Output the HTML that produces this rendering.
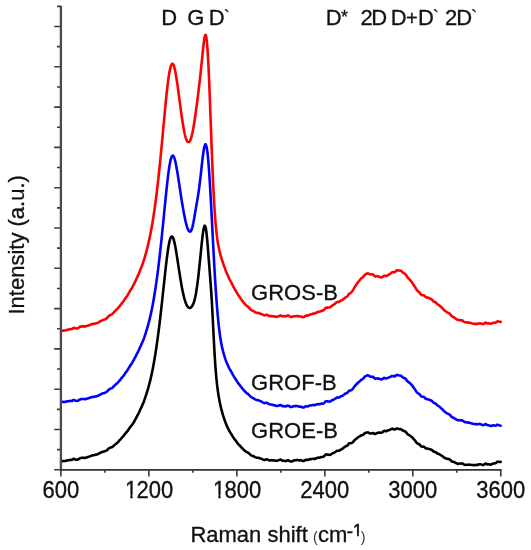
<!DOCTYPE html>
<html><head><meta charset="utf-8"><title>Raman spectra</title>
<style>html,body{margin:0;padding:0;background:#fff;width:531px;height:550px;overflow:hidden}svg{display:block;filter:blur(0.3px)}</style>
</head><body>
<svg width="531" height="550" viewBox="0 0 531 550"><rect width="531" height="550" fill="#fff"/><polyline fill="none" stroke="#ff0000" stroke-width="2.6" stroke-linejoin="round" stroke-linecap="round" points="61.2,331.04 61.7,330.96 62.2,330.82 62.7,330.70 63.2,330.63 63.7,330.59 64.2,330.56 64.7,330.52 65.2,330.46 65.7,330.36 66.2,330.19 66.7,329.99 67.2,329.80 67.7,329.68 68.2,329.61 68.7,329.55 69.2,329.42 69.7,329.25 70.2,329.11 70.7,329.07 71.2,329.11 71.7,329.11 72.2,328.92 72.7,328.51 73.2,328.06 73.7,327.81 74.2,327.86 74.7,328.10 75.2,328.36 75.7,328.50 76.2,328.49 76.7,328.42 77.2,328.37 77.7,328.32 78.2,328.14 78.7,327.77 79.2,327.34 79.7,327.00 80.2,326.79 80.7,326.65 81.2,326.51 81.7,326.40 82.2,326.35 82.7,326.34 83.2,326.36 83.7,326.38 84.2,326.40 84.7,326.42 85.2,326.42 85.7,326.35 86.2,326.19 86.7,326.00 87.2,325.83 87.7,325.69 88.2,325.56 88.7,325.40 89.2,325.20 89.7,324.97 90.2,324.75 90.7,324.59 91.2,324.45 91.7,324.28 92.2,324.08 92.7,323.93 93.2,323.88 93.7,323.85 94.2,323.78 94.7,323.65 95.2,323.51 95.7,323.40 96.2,323.28 96.7,323.12 97.2,322.96 97.7,322.81 98.2,322.61 98.7,322.30 99.2,321.90 99.7,321.55 100.2,321.32 100.7,321.16 101.2,320.94 101.7,320.62 102.2,320.30 102.7,320.10 103.2,319.98 103.7,319.85 104.2,319.64 104.7,319.41 105.2,319.20 105.7,318.96 106.2,318.64 106.7,318.22 107.2,317.74 107.7,317.23 108.2,316.71 108.7,316.20 109.2,315.76 109.7,315.39 110.2,315.07 110.7,314.79 111.2,314.54 111.7,314.29 112.2,313.99 112.7,313.61 113.2,313.10 113.7,312.50 114.2,311.89 114.7,311.37 115.2,310.91 115.7,310.44 116.2,309.94 116.7,309.44 117.2,308.95 117.7,308.44 118.2,307.86 118.7,307.23 119.2,306.61 119.7,306.03 120.2,305.46 120.7,304.85 121.2,304.15 121.7,303.42 122.2,302.78 122.7,302.23 123.2,301.63 123.7,300.91 124.2,300.12 124.7,299.34 125.2,298.60 125.7,297.90 126.2,297.20 126.7,296.49 127.2,295.73 127.7,294.92 128.2,294.05 128.7,293.17 129.2,292.30 129.7,291.43 130.2,290.59 130.7,289.78 131.2,289.01 131.7,288.22 132.2,287.38 132.7,286.46 133.2,285.50 133.7,284.53 134.2,283.55 134.7,282.55 135.2,281.53 135.7,280.47 136.2,279.38 136.7,278.27 137.2,277.16 137.7,276.09 138.2,275.02 138.7,273.89 139.2,272.68 139.7,271.42 140.2,270.18 140.7,268.95 141.2,267.70 141.7,266.39 142.2,265.05 142.7,263.68 143.2,262.27 143.7,260.79 144.2,259.20 144.7,257.51 145.2,255.75 145.7,253.96 146.2,252.14 146.7,250.26 147.2,248.31 147.7,246.28 148.2,244.17 148.7,242.00 149.2,239.76 149.7,237.46 150.2,235.06 150.7,232.56 151.2,229.93 151.7,227.19 152.2,224.33 152.7,221.35 153.2,218.22 153.7,214.94 154.2,211.55 154.7,208.06 155.2,204.45 155.7,200.73 156.2,196.87 156.7,192.85 157.2,188.67 157.7,184.34 158.2,179.89 158.7,175.33 159.2,170.64 159.7,165.83 160.2,160.88 160.7,155.83 161.2,150.67 161.7,145.41 162.2,140.06 162.7,134.66 163.2,129.24 163.7,123.83 164.2,118.45 164.7,113.12 165.2,107.88 165.7,102.75 166.2,97.78 166.7,93.00 167.2,88.45 167.7,84.18 168.2,80.23 168.7,76.63 169.2,73.43 169.7,70.65 170.2,68.33 170.7,66.49 171.2,65.13 171.7,64.27 172.2,63.84 172.7,63.83 173.2,64.35 173.7,65.37 174.2,66.86 174.7,68.76 175.2,71.04 175.7,73.65 176.2,76.55 176.7,79.70 177.2,83.05 177.7,86.57 178.2,90.24 178.7,94.00 179.2,97.80 179.7,101.61 180.2,105.39 180.7,109.12 181.2,112.77 181.7,116.30 182.2,119.69 182.7,122.91 183.2,125.94 183.7,128.75 184.2,131.33 184.7,133.68 185.2,135.79 185.7,137.61 186.2,139.15 186.7,140.37 187.2,141.26 187.7,141.81 188.2,142.00 188.7,141.98 189.2,141.81 189.7,141.34 190.2,140.50 190.7,139.30 191.2,137.75 191.7,135.91 192.2,133.79 192.7,131.43 193.2,128.82 193.7,126.00 194.2,122.96 194.7,119.73 195.2,116.31 195.7,112.74 196.2,109.05 196.7,105.29 197.2,101.46 197.7,97.57 198.2,93.59 198.7,89.51 199.2,85.33 199.7,81.04 200.2,76.60 200.7,72.00 201.2,67.24 201.7,62.33 202.2,57.35 202.7,52.40 203.2,47.67 203.7,43.34 204.2,39.65 204.7,36.84 205.2,35.12 205.7,34.98 206.2,36.68 206.7,39.99 207.2,45.12 207.7,52.07 208.2,60.74 208.7,70.97 209.2,82.51 209.7,95.06 210.2,108.29 210.7,121.84 211.2,135.40 211.7,148.66 212.2,161.37 212.7,173.32 213.2,184.38 213.7,194.44 214.2,203.47 214.7,211.47 215.2,218.49 215.7,224.60 216.2,229.88 216.7,234.44 217.2,238.36 217.7,241.76 218.2,244.73 218.7,247.35 219.2,249.71 219.7,251.87 220.2,253.88 220.7,255.74 221.2,257.46 221.7,259.06 222.2,260.58 222.7,262.04 223.2,263.47 223.7,264.88 224.2,266.27 224.7,267.68 225.2,269.08 225.7,270.45 226.2,271.73 226.7,272.92 227.2,274.05 227.7,275.18 228.2,276.33 228.7,277.47 229.2,278.56 229.7,279.56 230.2,280.51 230.7,281.46 231.2,282.43 231.7,283.41 232.2,284.40 232.7,285.39 233.2,286.38 233.7,287.32 234.2,288.20 234.7,289.05 235.2,289.90 235.7,290.74 236.2,291.58 236.7,292.42 237.2,293.30 237.7,294.16 238.2,294.97 238.7,295.69 239.2,296.38 239.7,297.07 240.2,297.79 240.7,298.54 241.2,299.26 241.7,299.94 242.2,300.58 242.7,301.23 243.2,301.91 243.7,302.56 244.2,303.15 244.7,303.73 245.2,304.34 245.7,304.92 246.2,305.39 246.7,305.77 247.2,306.11 247.7,306.49 248.2,306.91 248.7,307.40 249.2,307.96 249.7,308.51 250.2,309.01 250.7,309.49 251.2,309.94 251.7,310.33 252.2,310.60 252.7,310.78 253.2,310.96 253.7,311.23 254.2,311.58 254.7,311.94 255.2,312.23 255.7,312.46 256.2,312.66 256.7,312.81 257.2,312.87 257.7,312.87 258.2,312.90 258.7,313.03 259.2,313.25 259.7,313.48 260.2,313.66 260.7,313.77 261.2,313.89 261.7,314.10 262.2,314.39 262.7,314.68 263.2,314.93 263.7,315.16 264.2,315.33 264.7,315.36 265.2,315.20 265.7,314.96 266.2,314.80 266.7,314.82 267.2,314.96 267.7,315.19 268.2,315.48 268.7,315.79 269.2,316.00 269.7,316.11 270.2,316.13 270.7,316.13 271.2,316.12 271.7,316.14 272.2,316.21 272.7,316.29 273.2,316.35 273.7,316.38 274.2,316.41 274.7,316.47 275.2,316.58 275.7,316.73 276.2,316.84 276.7,316.86 277.2,316.77 277.7,316.59 278.2,316.36 278.7,316.17 279.2,315.99 279.7,315.77 280.2,315.56 280.7,315.47 281.2,315.58 281.7,315.88 282.2,316.21 282.7,316.39 283.2,316.35 283.7,316.19 284.2,316.10 284.7,316.17 285.2,316.33 285.7,316.39 286.2,316.23 286.7,315.91 287.2,315.60 287.7,315.42 288.2,315.46 288.7,315.70 289.2,316.06 289.7,316.41 290.2,316.68 290.7,316.86 291.2,316.93 291.7,316.91 292.2,316.80 292.7,316.62 293.2,316.43 293.7,316.28 294.2,316.21 294.7,316.20 295.2,316.21 295.7,316.21 296.2,316.16 296.7,316.06 297.2,316.01 297.7,316.08 298.2,316.26 298.7,316.46 299.2,316.57 299.7,316.57 300.2,316.50 300.7,316.46 301.2,316.53 301.7,316.73 302.2,316.96 302.7,317.14 303.2,317.17 303.7,317.06 304.2,316.81 304.7,316.46 305.2,316.05 305.7,315.72 306.2,315.60 306.7,315.66 307.2,315.73 307.7,315.67 308.2,315.46 308.7,315.15 309.2,314.84 309.7,314.61 310.2,314.50 310.7,314.46 311.2,314.39 311.7,314.21 312.2,313.94 312.7,313.70 313.2,313.59 313.7,313.61 314.2,313.63 314.7,313.56 315.2,313.36 315.7,313.06 316.2,312.76 316.7,312.52 317.2,312.30 317.7,312.07 318.2,311.90 318.7,311.82 319.2,311.77 319.7,311.64 320.2,311.43 320.7,311.18 321.2,310.96 321.7,310.79 322.2,310.70 322.7,310.62 323.2,310.45 323.7,310.10 324.2,309.61 324.7,309.03 325.2,308.43 325.7,307.94 326.2,307.69 326.7,307.64 327.2,307.67 327.7,307.64 328.2,307.55 328.7,307.49 329.2,307.49 329.7,307.45 330.2,307.27 330.7,306.90 331.2,306.42 331.7,305.95 332.2,305.56 332.7,305.27 333.2,305.00 333.7,304.70 334.2,304.32 334.7,303.93 335.2,303.48 335.7,303.06 336.2,302.62 336.7,302.22 337.2,301.96 337.7,301.91 338.2,301.96 338.7,301.94 339.2,301.73 339.7,301.36 340.2,300.96 340.7,300.63 341.2,300.42 341.7,300.27 342.2,300.05 342.7,299.70 343.2,299.28 343.7,298.89 344.2,298.53 344.7,298.13 345.2,297.68 345.7,297.29 346.2,297.04 346.7,296.82 347.2,296.43 347.7,295.79 348.2,295.01 348.7,294.26 349.2,293.69 349.7,293.34 350.2,293.10 350.7,292.83 351.2,292.43 351.7,291.89 352.2,291.24 352.7,290.51 353.2,289.72 353.7,288.86 354.2,287.95 354.7,287.06 355.2,286.24 355.7,285.49 356.2,284.78 356.7,284.07 357.2,283.36 357.7,282.65 358.2,281.99 358.7,281.40 359.2,280.84 359.7,280.25 360.2,279.58 360.7,278.93 361.2,278.41 361.7,278.03 362.2,277.68 362.7,277.28 363.2,276.78 363.7,276.21 364.2,275.57 364.7,274.97 365.2,274.52 365.7,274.24 366.2,274.02 366.7,273.75 367.2,273.50 367.7,273.40 368.2,273.48 368.7,273.67 369.2,273.88 369.7,274.09 370.2,274.30 370.7,274.47 371.2,274.53 371.7,274.45 372.2,274.32 372.7,274.32 373.2,274.57 373.7,275.06 374.2,275.66 374.7,276.15 375.2,276.39 375.7,276.41 376.2,276.33 376.7,276.27 377.2,276.27 377.7,276.35 378.2,276.47 378.7,276.60 379.2,276.75 379.7,276.94 380.2,277.15 380.7,277.32 381.2,277.40 381.7,277.37 382.2,277.20 382.7,276.84 383.2,276.36 383.7,275.90 384.2,275.67 384.7,275.73 385.2,275.96 385.7,276.13 386.2,276.08 386.7,275.85 387.2,275.55 387.7,275.28 388.2,275.02 388.7,274.75 389.2,274.47 389.7,274.18 390.2,273.81 390.7,273.37 391.2,272.94 391.7,272.58 392.2,272.32 392.7,272.15 393.2,272.11 393.7,272.20 394.2,272.27 394.7,272.15 395.2,271.78 395.7,271.27 396.2,270.80 396.7,270.47 397.2,270.32 397.7,270.30 398.2,270.36 398.7,270.44 399.2,270.50 399.7,270.55 400.2,270.63 400.7,270.77 401.2,271.00 401.7,271.35 402.2,271.81 402.7,272.31 403.2,272.74 403.7,273.07 404.2,273.34 404.7,273.61 405.2,273.97 405.7,274.48 406.2,275.19 406.7,276.02 407.2,276.83 407.7,277.52 408.2,278.09 408.7,278.58 409.2,279.06 409.7,279.57 410.2,280.18 410.7,280.82 411.2,281.44 411.7,282.01 412.2,282.62 412.7,283.37 413.2,284.23 413.7,285.07 414.2,285.81 414.7,286.52 415.2,287.29 415.7,288.15 416.2,289.03 416.7,289.83 417.2,290.46 417.7,290.92 418.2,291.31 418.7,291.72 419.2,292.23 419.7,292.84 420.2,293.52 420.7,294.18 421.2,294.74 421.7,295.11 422.2,295.27 422.7,295.27 423.2,295.22 423.7,295.24 424.2,295.44 424.7,295.86 425.2,296.64 425.7,297.12 426.2,297.39 426.7,297.48 427.2,297.49 427.7,297.54 428.2,297.71 428.7,297.96 429.2,298.21 429.7,298.41 430.2,298.59 430.7,298.79 431.2,299.05 431.7,299.41 432.2,299.86 432.7,300.40 433.2,300.98 433.7,301.47 434.2,301.78 434.7,301.93 435.2,302.09 435.7,302.39 436.2,302.88 436.7,303.46 437.2,303.98 437.7,304.36 438.2,304.66 438.7,304.96 439.2,305.31 439.7,305.74 440.2,306.22 440.7,306.70 441.2,307.16 441.7,307.60 442.2,308.04 442.7,308.54 443.2,309.10 443.7,309.70 444.2,310.23 444.7,310.63 445.2,310.95 445.7,311.32 446.2,311.74 446.7,312.12 447.2,312.40 447.7,312.62 448.2,312.85 448.7,313.12 449.2,313.42 449.7,313.78 450.2,314.24 450.7,314.82 451.2,315.47 451.7,316.08 452.2,316.51 452.7,316.74 453.2,316.88 453.7,317.09 454.2,317.46 454.7,317.95 455.2,318.40 455.7,318.71 456.2,318.96 456.7,319.27 457.2,319.66 457.7,319.99 458.2,320.10 458.7,320.00 459.2,319.92 459.7,320.03 460.2,320.25 460.7,320.41 461.2,320.40 461.7,320.33 462.2,320.38 462.7,320.69 463.2,321.15 463.7,321.57 464.2,321.86 464.7,322.08 465.2,322.26 465.7,322.37 466.2,322.38 466.7,322.38 467.2,322.44 467.7,322.53 468.2,322.58 468.7,322.59 469.2,322.60 469.7,322.67 470.2,322.81 470.7,322.99 471.2,323.16 471.7,323.30 472.2,323.41 472.7,323.53 473.2,323.65 473.7,323.75 474.2,323.84 474.7,323.90 475.2,323.91 475.7,323.85 476.2,323.79 476.7,323.83 477.2,323.92 477.7,323.95 478.2,323.82 478.7,323.59 479.2,323.40 479.7,323.32 480.2,323.34 480.7,323.42 481.2,323.56 481.7,323.74 482.2,323.92 482.7,324.04 483.2,324.07 483.7,323.91 484.2,323.55 484.7,323.09 485.2,322.73 485.7,322.65 486.2,322.85 486.7,323.17 487.2,323.42 487.7,323.47 488.2,323.40 488.7,323.36 489.2,323.45 489.7,323.61 490.2,323.75 490.7,323.80 491.2,323.68 491.7,323.41 492.2,323.11 492.7,322.90 493.2,322.79 493.7,322.72 494.2,322.71 494.7,322.75 495.2,322.75 495.7,322.60 496.2,322.25 496.7,321.80 497.2,321.47 497.7,321.37 498.2,321.44 498.7,321.55 499.2,321.63 499.7,321.71 500.2,321.81 500.7,321.85"/><polyline fill="none" stroke="#0000ff" stroke-width="2.6" stroke-linejoin="round" stroke-linecap="round" points="61.2,402.14 61.7,402.10 62.2,402.00 62.7,401.90 63.2,401.87 63.7,401.87 64.2,401.87 64.7,401.87 65.2,401.84 65.7,401.77 66.2,401.65 66.7,401.48 67.2,401.32 67.7,401.23 68.2,401.21 68.7,401.19 69.2,401.10 69.7,400.97 70.2,400.88 70.7,400.88 71.2,400.97 71.7,401.01 72.2,400.88 72.7,400.51 73.2,400.10 73.7,399.90 74.2,400.00 74.7,400.30 75.2,400.60 75.7,400.79 76.2,400.83 76.7,400.79 77.2,400.79 77.7,400.77 78.2,400.63 78.7,400.29 79.2,399.88 79.7,399.57 80.2,399.38 80.7,399.25 81.2,399.14 81.7,399.04 82.2,399.00 82.7,399.01 83.2,399.04 83.7,399.07 84.2,399.10 84.7,399.13 85.2,399.13 85.7,399.07 86.2,398.91 86.7,398.73 87.2,398.57 87.7,398.44 88.2,398.32 88.7,398.17 89.2,397.98 89.7,397.76 90.2,397.56 90.7,397.42 91.2,397.31 91.7,397.15 92.2,396.98 92.7,396.86 93.2,396.83 93.7,396.83 94.2,396.78 94.7,396.68 95.2,396.56 95.7,396.47 96.2,396.38 96.7,396.24 97.2,396.09 97.7,395.96 98.2,395.78 98.7,395.48 99.2,395.09 99.7,394.75 100.2,394.53 100.7,394.39 101.2,394.18 101.7,393.88 102.2,393.58 102.7,393.39 103.2,393.29 103.7,393.17 104.2,392.99 104.7,392.79 105.2,392.60 105.7,392.39 106.2,392.09 106.7,391.70 107.2,391.26 107.7,390.77 108.2,390.28 108.7,389.80 109.2,389.39 109.7,389.06 110.2,388.78 110.7,388.54 111.2,388.33 111.7,388.11 112.2,387.86 112.7,387.51 113.2,387.04 113.7,386.46 114.2,385.87 114.7,385.38 115.2,384.95 115.7,384.51 116.2,384.04 116.7,383.57 117.2,383.11 117.7,382.62 118.2,382.07 118.7,381.47 119.2,380.88 119.7,380.32 120.2,379.79 120.7,379.21 121.2,378.54 121.7,377.84 122.2,377.23 122.7,376.71 123.2,376.16 123.7,375.47 124.2,374.71 124.7,373.96 125.2,373.26 125.7,372.59 126.2,371.94 126.7,371.27 127.2,370.55 127.7,369.77 128.2,368.95 128.7,368.10 129.2,367.27 129.7,366.45 130.2,365.66 130.7,364.90 131.2,364.18 131.7,363.45 132.2,362.67 132.7,361.82 133.2,360.93 133.7,360.02 134.2,359.11 134.7,358.19 135.2,357.25 135.7,356.28 136.2,355.27 136.7,354.26 137.2,353.25 137.7,352.29 138.2,351.34 138.7,350.34 139.2,349.26 139.7,348.14 140.2,347.04 140.7,345.97 141.2,344.89 141.7,343.77 142.2,342.61 142.7,341.44 143.2,340.24 143.7,338.98 144.2,337.61 144.7,336.13 145.2,334.60 145.7,333.05 146.2,331.48 146.7,329.86 147.2,328.18 147.7,326.43 148.2,324.61 148.7,322.74 149.2,320.82 149.7,318.84 150.2,316.78 150.7,314.62 151.2,312.35 151.7,309.96 152.2,307.48 152.7,304.88 153.2,302.14 153.7,299.26 154.2,296.29 154.7,293.22 155.2,290.06 155.7,286.80 156.2,283.41 156.7,279.87 157.2,276.17 157.7,272.33 158.2,268.39 158.7,264.34 159.2,260.18 159.7,255.89 160.2,251.46 160.7,246.92 161.2,242.26 161.7,237.48 162.2,232.59 162.7,227.62 163.2,222.60 163.7,217.55 164.2,212.48 164.7,207.42 165.2,202.38 165.7,197.40 166.2,192.51 166.7,187.76 167.2,183.18 167.7,178.81 168.2,174.71 168.7,170.91 169.2,167.47 169.7,164.42 170.2,161.80 170.7,159.63 171.2,157.94 171.7,156.73 172.2,155.95 172.7,155.55 173.2,155.70 173.7,156.40 174.2,157.54 174.7,159.09 175.2,160.99 175.7,163.21 176.2,165.69 176.7,168.39 177.2,171.27 177.7,174.31 178.2,177.48 178.7,180.74 179.2,184.04 179.7,187.35 180.2,190.66 180.7,193.95 181.2,197.20 181.7,200.39 182.2,203.49 182.7,206.50 183.2,209.40 183.7,212.17 184.2,214.82 184.7,217.34 185.2,219.72 185.7,221.93 186.2,223.96 186.7,225.80 187.2,227.43 187.7,228.82 188.2,229.95 188.7,230.79 189.2,231.32 189.7,231.57 190.2,231.59 190.7,231.27 191.2,230.53 191.7,229.37 192.2,227.81 192.7,225.88 193.2,223.60 193.7,221.05 194.2,218.27 194.7,215.34 195.2,212.36 195.7,209.38 196.2,206.46 196.7,203.60 197.2,200.77 197.7,197.86 198.2,194.77 198.7,191.43 199.2,187.80 199.7,183.88 200.2,179.69 200.7,175.29 201.2,170.75 201.7,166.18 202.2,161.71 202.7,157.48 203.2,153.62 203.7,150.28 204.2,147.57 204.7,145.58 205.2,144.38 205.7,144.33 206.2,145.48 206.7,147.52 207.2,150.59 207.7,154.68 208.2,159.78 208.7,165.83 209.2,172.75 209.7,180.44 210.2,188.78 210.7,197.63 211.2,206.89 211.7,216.42 212.2,226.09 212.7,235.79 213.2,245.40 213.7,254.80 214.2,263.92 214.7,272.66 215.2,280.98 215.7,288.82 216.2,296.15 216.7,302.96 217.2,309.23 217.7,314.99 218.2,320.24 218.7,325.02 219.2,329.36 219.7,333.29 220.2,336.85 220.7,340.06 221.2,342.94 221.7,345.53 222.2,347.87 222.7,350.00 223.2,351.95 223.7,353.76 224.2,355.46 224.7,357.08 225.2,358.64 225.7,360.11 226.2,361.46 226.7,362.67 227.2,363.79 227.7,364.89 228.2,365.99 228.7,367.08 229.2,368.10 229.7,369.03 230.2,369.89 230.7,370.75 231.2,371.64 231.7,372.53 232.2,373.44 232.7,374.36 233.2,375.27 233.7,376.14 234.2,376.94 234.7,377.71 235.2,378.48 235.7,379.26 236.2,380.02 236.7,380.80 237.2,381.61 237.7,382.41 238.2,383.15 238.7,383.80 239.2,384.42 239.7,385.04 240.2,385.70 240.7,386.39 241.2,387.06 241.7,387.67 242.2,388.26 242.7,388.85 243.2,389.48 243.7,390.08 244.2,390.63 244.7,391.16 245.2,391.73 245.7,392.28 246.2,392.72 246.7,393.05 247.2,393.37 247.7,393.72 248.2,394.12 248.7,394.60 249.2,395.14 249.7,395.68 250.2,396.17 250.7,396.64 251.2,397.08 251.7,397.46 252.2,397.73 252.7,397.91 253.2,398.09 253.7,398.36 254.2,398.72 254.7,399.08 255.2,399.38 255.7,399.63 256.2,399.85 256.7,400.01 257.2,400.10 257.7,400.13 258.2,400.19 258.7,400.35 259.2,400.60 259.7,400.87 260.2,401.08 260.7,401.23 261.2,401.39 261.7,401.64 262.2,401.97 262.7,402.29 263.2,402.58 263.7,402.84 264.2,403.06 264.7,403.13 265.2,403.01 265.7,402.82 266.2,402.71 266.7,402.77 267.2,402.95 267.7,403.22 268.2,403.56 268.7,403.91 269.2,404.18 269.7,404.34 270.2,404.42 270.7,404.47 271.2,404.53 271.7,404.61 272.2,404.75 272.7,404.89 273.2,405.02 273.7,405.11 274.2,405.20 274.7,405.32 275.2,405.50 275.7,405.71 276.2,405.88 276.7,405.96 277.2,405.93 277.7,405.81 278.2,405.65 278.7,405.52 279.2,405.40 279.7,405.25 280.2,405.11 280.7,405.08 281.2,405.27 281.7,405.63 282.2,406.02 282.7,406.26 283.2,406.28 283.7,406.17 284.2,406.12 284.7,406.24 285.2,406.43 285.7,406.51 286.2,406.37 286.7,406.06 287.2,405.75 287.7,405.58 288.2,405.61 288.7,405.84 289.2,406.18 289.7,406.51 290.2,406.76 290.7,406.91 291.2,406.95 291.7,406.90 292.2,406.76 292.7,406.56 293.2,406.35 293.7,406.19 294.2,406.11 294.7,406.09 295.2,406.11 295.7,406.12 296.2,406.08 296.7,406.00 297.2,405.98 297.7,406.08 298.2,406.29 298.7,406.52 299.2,406.67 299.7,406.70 300.2,406.66 300.7,406.66 301.2,406.76 301.7,406.99 302.2,407.26 302.7,407.47 303.2,407.54 303.7,407.46 304.2,407.25 304.7,406.92 305.2,406.55 305.7,406.26 306.2,406.18 306.7,406.29 307.2,406.41 307.7,406.40 308.2,406.23 308.7,405.97 309.2,405.71 309.7,405.53 310.2,405.47 310.7,405.49 311.2,405.48 311.7,405.36 312.2,405.15 312.7,404.97 313.2,404.94 313.7,405.03 314.2,405.13 314.7,405.15 315.2,405.03 315.7,404.81 316.2,404.59 316.7,404.44 317.2,404.31 317.7,404.18 318.2,404.10 318.7,404.12 319.2,404.17 319.7,404.15 320.2,404.03 320.7,403.87 321.2,403.73 321.7,403.66 322.2,403.65 322.7,403.67 323.2,403.58 323.7,403.30 324.2,402.87 324.7,402.34 325.2,401.78 325.7,401.36 326.2,401.18 326.7,401.21 327.2,401.33 327.7,401.40 328.2,401.41 328.7,401.44 329.2,401.54 329.7,401.61 330.2,401.52 330.7,401.23 331.2,400.83 331.7,400.45 332.2,400.14 332.7,399.93 333.2,399.76 333.7,399.54 334.2,399.25 334.7,398.94 335.2,398.66 335.7,398.34 336.2,397.96 336.7,397.61 337.2,397.41 337.7,397.42 338.2,397.54 338.7,397.58 339.2,397.42 339.7,397.10 340.2,396.73 340.7,396.44 341.2,396.25 341.7,396.10 342.2,395.90 342.7,395.57 343.2,395.17 343.7,394.80 344.2,394.47 344.7,394.10 345.2,393.68 345.7,393.43 346.2,393.32 346.7,393.22 347.2,392.95 347.7,392.42 348.2,391.72 348.7,391.06 349.2,390.63 349.7,390.46 350.2,390.44 350.7,390.39 351.2,390.21 351.7,389.89 352.2,389.44 352.7,388.90 353.2,388.28 353.7,387.59 354.2,386.86 354.7,386.15 355.2,385.54 355.7,385.00 356.2,384.50 356.7,384.01 357.2,383.51 357.7,383.00 358.2,382.53 358.7,382.14 359.2,381.78 359.7,381.34 360.2,380.81 360.7,380.28 361.2,379.89 361.7,379.62 362.2,379.38 362.7,379.04 363.2,378.60 363.7,378.05 364.2,377.42 364.7,376.82 365.2,376.37 365.7,376.09 366.2,375.87 366.7,375.62 367.2,375.39 367.7,375.32 368.2,375.45 368.7,375.70 369.2,375.98 369.7,376.26 370.2,376.54 370.7,376.77 371.2,376.89 371.7,376.85 372.2,376.75 372.7,376.76 373.2,377.00 373.7,377.47 374.2,378.04 374.7,378.50 375.2,378.70 375.7,378.67 376.2,378.54 376.7,378.43 377.2,378.39 377.7,378.42 378.2,378.51 378.7,378.61 379.2,378.74 379.7,378.92 380.2,379.12 380.7,379.29 381.2,379.37 381.7,379.36 382.2,379.21 382.7,378.89 383.2,378.45 383.7,378.05 384.2,377.88 384.7,378.00 385.2,378.30 385.7,378.53 386.2,378.54 386.7,378.36 387.2,378.11 387.7,377.89 388.2,377.70 388.7,377.53 389.2,377.36 389.7,377.19 390.2,376.95 390.7,376.64 391.2,376.33 391.7,376.11 392.2,375.97 392.7,375.93 393.2,376.02 393.7,376.24 394.2,376.42 394.7,376.38 395.2,376.09 395.7,375.65 396.2,375.27 396.7,375.04 397.2,374.99 397.7,375.06 398.2,375.20 398.7,375.34 399.2,375.45 399.7,375.53 400.2,375.62 400.7,375.75 401.2,375.96 401.7,376.29 402.2,376.71 402.7,377.17 403.2,377.56 403.7,377.83 404.2,378.01 404.7,378.20 405.2,378.46 405.7,378.87 406.2,379.49 406.7,380.23 407.2,380.94 407.7,381.51 408.2,381.94 408.7,382.28 409.2,382.60 409.7,382.98 410.2,383.45 410.7,383.98 411.2,384.49 411.7,384.95 412.2,385.46 412.7,386.14 413.2,386.94 413.7,387.72 414.2,388.40 414.7,389.05 415.2,389.76 415.7,390.57 416.2,391.39 416.7,392.11 417.2,392.66 417.7,393.02 418.2,393.31 418.7,393.63 419.2,394.05 419.7,394.58 420.2,395.17 420.7,395.76 421.2,396.25 421.7,396.58 422.2,396.72 422.7,396.74 423.2,396.74 423.7,396.84 424.2,397.13 424.7,397.60 425.2,398.31 425.7,398.79 426.2,399.06 426.7,399.14 427.2,399.14 427.7,399.18 428.2,399.34 428.7,399.58 429.2,399.81 429.7,399.99 430.2,400.13 430.7,400.30 431.2,400.54 431.7,400.86 432.2,401.28 432.7,401.80 433.2,402.35 433.7,402.81 434.2,403.09 434.7,403.21 435.2,403.34 435.7,403.61 436.2,404.08 436.7,404.65 437.2,405.15 437.7,405.53 438.2,405.81 438.7,406.09 439.2,406.44 439.7,406.86 440.2,407.33 440.7,407.81 441.2,408.26 441.7,408.70 442.2,409.14 442.7,409.63 443.2,410.20 443.7,410.79 444.2,411.32 444.7,411.71 445.2,412.03 445.7,412.38 446.2,412.80 446.7,413.17 447.2,413.44 447.7,413.64 448.2,413.85 448.7,414.10 449.2,414.39 449.7,414.73 450.2,415.17 450.7,415.72 451.2,416.36 451.7,416.94 452.2,417.33 452.7,417.52 453.2,417.62 453.7,417.78 454.2,418.11 454.7,418.54 455.2,418.94 455.7,419.21 456.2,419.40 456.7,419.65 457.2,419.99 457.7,420.27 458.2,420.33 458.7,420.18 459.2,420.06 459.7,420.12 460.2,420.31 460.7,420.43 461.2,420.39 461.7,420.29 462.2,420.32 462.7,420.61 463.2,421.05 463.7,421.46 464.2,421.75 464.7,421.97 465.2,422.17 465.7,422.28 466.2,422.31 466.7,422.34 467.2,422.42 467.7,422.54 468.2,422.62 468.7,422.66 469.2,422.70 469.7,422.79 470.2,422.94 470.7,423.14 471.2,423.33 471.7,423.47 472.2,423.59 472.7,423.71 473.2,423.84 473.7,423.95 474.2,424.04 474.7,424.12 475.2,424.13 475.7,424.09 476.2,424.06 476.7,424.12 477.2,424.25 477.7,424.32 478.2,424.23 478.7,424.06 479.2,423.93 479.7,423.91 480.2,423.99 480.7,424.14 481.2,424.36 481.7,424.61 482.2,424.86 482.7,425.06 483.2,425.16 483.7,425.08 484.2,424.79 484.7,424.41 485.2,424.12 485.7,424.10 486.2,424.37 486.7,424.76 487.2,425.07 487.7,425.19 488.2,425.19 488.7,425.23 489.2,425.38 489.7,425.62 490.2,425.84 490.7,425.96 491.2,425.92 491.7,425.73 492.2,425.52 492.7,425.39 493.2,425.36 493.7,425.39 494.2,425.46 494.7,425.58 495.2,425.67 495.7,425.61 496.2,425.35 496.7,424.99 497.2,424.74 497.7,424.73 498.2,424.89 498.7,425.08 499.2,425.24 499.7,425.40 500.2,425.57 500.7,425.69"/><polyline fill="none" stroke="#000000" stroke-width="2.6" stroke-linejoin="round" stroke-linecap="round" points="61.2,461.33 61.7,461.28 62.2,461.17 62.7,461.08 63.2,461.04 63.7,461.03 64.2,461.02 64.7,461.01 65.2,460.97 65.7,460.88 66.2,460.74 66.7,460.56 67.2,460.39 67.7,460.28 68.2,460.24 68.7,460.21 69.2,460.11 69.7,459.96 70.2,459.86 70.7,459.85 71.2,459.92 71.7,459.96 72.2,459.81 72.7,459.44 73.2,459.02 73.7,458.80 74.2,458.90 74.7,459.19 75.2,459.48 75.7,459.66 76.2,459.69 76.7,459.65 77.2,459.63 77.7,459.61 78.2,459.46 78.7,459.12 79.2,458.70 79.7,458.38 80.2,458.19 80.7,458.06 81.2,457.93 81.7,457.83 82.2,457.78 82.7,457.78 83.2,457.81 83.7,457.83 84.2,457.85 84.7,457.87 85.2,457.87 85.7,457.79 86.2,457.62 86.7,457.42 87.2,457.25 87.7,457.11 88.2,456.96 88.7,456.80 89.2,456.59 89.7,456.35 90.2,456.12 90.7,455.96 91.2,455.82 91.7,455.64 92.2,455.43 92.7,455.28 93.2,455.22 93.7,455.20 94.2,455.12 94.7,454.99 95.2,454.85 95.7,454.75 96.2,454.63 96.7,454.48 97.2,454.32 97.7,454.18 98.2,454.00 98.7,453.70 99.2,453.32 99.7,452.98 100.2,452.78 100.7,452.65 101.2,452.46 101.7,452.18 102.2,451.90 102.7,451.74 103.2,451.67 103.7,451.58 104.2,451.43 104.7,451.26 105.2,451.11 105.7,450.93 106.2,450.67 106.7,450.32 107.2,449.91 107.7,449.46 108.2,449.00 108.7,448.57 109.2,448.20 109.7,447.92 110.2,447.69 110.7,447.51 111.2,447.35 111.7,447.20 112.2,447.00 112.7,446.72 113.2,446.30 113.7,445.78 114.2,445.24 114.7,444.81 115.2,444.44 115.7,444.05 116.2,443.63 116.7,443.21 117.2,442.80 117.7,442.35 118.2,441.84 118.7,441.27 119.2,440.71 119.7,440.18 120.2,439.68 120.7,439.13 121.2,438.49 121.7,437.82 122.2,437.25 122.7,436.80 123.2,436.31 123.7,435.68 124.2,434.98 124.7,434.30 125.2,433.68 125.7,433.10 126.2,432.55 126.7,431.99 127.2,431.38 127.7,430.71 128.2,429.99 128.7,429.26 129.2,428.54 129.7,427.84 130.2,427.17 130.7,426.54 131.2,425.94 131.7,425.34 132.2,424.67 132.7,423.92 133.2,423.11 133.7,422.29 134.2,421.46 134.7,420.61 135.2,419.73 135.7,418.81 136.2,417.86 136.7,416.88 137.2,415.91 137.7,414.98 138.2,414.06 138.7,413.09 139.2,412.02 139.7,410.92 140.2,409.83 140.7,408.79 141.2,407.73 141.7,406.62 142.2,405.48 142.7,404.34 143.2,403.17 143.7,401.94 144.2,400.60 144.7,399.17 145.2,397.67 145.7,396.17 146.2,394.65 146.7,393.09 147.2,391.47 147.7,389.79 148.2,388.05 148.7,386.26 149.2,384.42 149.7,382.53 150.2,380.56 150.7,378.51 151.2,376.33 151.7,374.05 152.2,371.68 152.7,369.19 153.2,366.56 153.7,363.80 154.2,360.95 154.7,358.00 155.2,354.98 155.7,351.85 156.2,348.60 156.7,345.20 157.2,341.66 157.7,337.98 158.2,334.20 158.7,330.33 159.2,326.35 159.7,322.26 160.2,318.05 160.7,313.73 161.2,309.32 161.7,304.81 162.2,300.21 162.7,295.55 163.2,290.87 163.7,286.19 164.2,281.53 164.7,276.91 165.2,272.35 165.7,267.89 166.2,263.56 166.7,259.41 167.2,255.47 167.7,251.79 168.2,248.41 168.7,245.39 169.2,242.75 169.7,240.55 170.2,238.81 170.7,237.56 171.2,236.82 171.7,236.58 172.2,236.65 172.7,237.14 173.2,238.13 173.7,239.58 174.2,241.42 174.7,243.62 175.2,246.11 175.7,248.85 176.2,251.78 176.7,254.85 177.2,258.02 177.7,261.28 178.2,264.58 178.7,267.88 179.2,271.16 179.7,274.37 180.2,277.49 180.7,280.52 181.2,283.45 181.7,286.24 182.2,288.89 182.7,291.37 183.2,293.69 183.7,295.83 184.2,297.80 184.7,299.60 185.2,301.25 185.7,302.71 186.2,303.99 186.7,305.09 187.2,306.00 187.7,306.74 188.2,307.29 188.7,307.66 189.2,307.89 189.7,308.01 190.2,307.96 190.7,307.70 191.2,307.25 191.7,306.64 192.2,305.90 192.7,305.01 193.2,303.95 193.7,302.68 194.2,301.15 194.7,299.32 195.2,297.18 195.7,294.71 196.2,291.92 196.7,288.83 197.2,285.40 197.7,281.64 198.2,277.55 198.7,273.14 199.2,268.47 199.7,263.60 200.2,258.59 200.7,253.53 201.2,248.52 201.7,243.66 202.2,239.08 202.7,234.93 203.2,231.39 203.7,228.59 204.2,226.68 204.7,225.73 205.2,226.15 205.7,227.84 206.2,230.74 206.7,234.80 207.2,239.85 207.7,245.67 208.2,251.99 208.7,258.56 209.2,265.14 209.7,271.63 210.2,278.07 210.7,284.66 211.2,291.71 211.7,299.49 212.2,308.13 212.7,317.55 213.2,327.44 213.7,337.39 214.2,346.94 214.7,355.73 215.2,363.57 215.7,370.41 216.2,376.31 216.7,381.40 217.2,385.83 217.7,389.73 218.2,393.21 218.7,396.35 219.2,399.22 219.7,401.87 220.2,404.32 220.7,406.60 221.2,408.69 221.7,410.63 222.2,412.43 222.7,414.14 223.2,415.76 223.7,417.31 224.2,418.81 224.7,420.28 225.2,421.72 225.7,423.10 226.2,424.37 226.7,425.52 227.2,426.59 227.7,427.64 228.2,428.69 228.7,429.73 229.2,430.69 229.7,431.56 230.2,432.35 230.7,433.13 231.2,433.93 231.7,434.74 232.2,435.56 232.7,436.39 233.2,437.21 233.7,437.97 234.2,438.67 234.7,439.33 235.2,439.99 235.7,440.65 236.2,441.30 236.7,441.97 237.2,442.68 237.7,443.38 238.2,444.01 238.7,444.55 239.2,445.04 239.7,445.54 240.2,446.09 240.7,446.67 241.2,447.24 241.7,447.74 242.2,448.21 242.7,448.70 243.2,449.22 243.7,449.71 244.2,450.15 244.7,450.57 245.2,451.04 245.7,451.48 246.2,451.81 246.7,452.03 247.2,452.23 247.7,452.47 248.2,452.77 248.7,453.16 249.2,453.63 249.7,454.10 250.2,454.52 250.7,454.92 251.2,455.30 251.7,455.62 252.2,455.82 252.7,455.93 253.2,456.05 253.7,456.27 254.2,456.59 254.7,456.92 255.2,457.17 255.7,457.38 256.2,457.55 256.7,457.68 257.2,457.72 257.7,457.71 258.2,457.72 258.7,457.83 259.2,458.05 259.7,458.28 260.2,458.44 260.7,458.54 261.2,458.66 261.7,458.86 262.2,459.14 262.7,459.41 263.2,459.64 263.7,459.85 264.2,460.00 264.7,460.00 265.2,459.81 265.7,459.53 266.2,459.35 266.7,459.33 267.2,459.43 267.7,459.62 268.2,459.88 268.7,460.14 269.2,460.32 269.7,460.39 270.2,460.38 270.7,460.34 271.2,460.29 271.7,460.28 272.2,460.32 272.7,460.37 273.2,460.40 273.7,460.40 274.2,460.39 274.7,460.43 275.2,460.52 275.7,460.65 276.2,460.75 276.7,460.77 277.2,460.68 277.7,460.50 278.2,460.29 278.7,460.13 279.2,459.98 279.7,459.81 280.2,459.65 280.7,459.61 281.2,459.80 281.7,460.17 282.2,460.57 282.7,460.82 283.2,460.85 283.7,460.75 284.2,460.72 284.7,460.84 285.2,461.05 285.7,461.15 286.2,461.01 286.7,460.71 287.2,460.41 287.7,460.24 288.2,460.26 288.7,460.48 289.2,460.81 289.7,461.13 290.2,461.36 290.7,461.48 291.2,461.49 291.7,461.41 292.2,461.23 292.7,460.99 293.2,460.73 293.7,460.53 294.2,460.39 294.7,460.32 295.2,460.29 295.7,460.24 296.2,460.14 296.7,460.01 297.2,459.92 297.7,459.96 298.2,460.12 298.7,460.30 299.2,460.39 299.7,460.38 300.2,460.30 300.7,460.25 301.2,460.33 301.7,460.53 302.2,460.78 302.7,460.97 303.2,461.03 303.7,460.94 304.2,460.73 304.7,460.41 305.2,460.04 305.7,459.76 306.2,459.69 306.7,459.81 307.2,459.95 307.7,459.96 308.2,459.81 308.7,459.57 309.2,459.33 309.7,459.17 310.2,459.13 310.7,459.17 311.2,459.18 311.7,459.08 312.2,458.88 312.7,458.71 313.2,458.68 313.7,458.77 314.2,458.87 314.7,458.88 315.2,458.75 315.7,458.51 316.2,458.28 316.7,458.10 317.2,457.95 317.7,457.78 318.2,457.67 318.7,457.66 319.2,457.67 319.7,457.62 320.2,457.46 320.7,457.26 321.2,457.09 321.7,456.99 322.2,456.96 322.7,456.95 323.2,456.84 323.7,456.54 324.2,456.10 324.7,455.55 325.2,454.98 325.7,454.55 326.2,454.37 326.7,454.42 327.2,454.54 327.7,454.62 328.2,454.65 328.7,454.70 329.2,454.81 329.7,454.90 330.2,454.83 330.7,454.55 331.2,454.17 331.7,453.80 332.2,453.50 332.7,453.30 333.2,453.14 333.7,452.92 334.2,452.63 334.7,452.31 335.2,452.04 335.7,451.69 336.2,451.30 336.7,450.93 337.2,450.71 337.7,450.68 338.2,450.75 338.7,450.76 339.2,450.63 339.7,450.32 340.2,449.96 340.7,449.65 341.2,449.43 341.7,449.24 342.2,448.97 342.7,448.57 343.2,448.09 343.7,447.65 344.2,447.25 344.7,446.92 345.2,446.55 345.7,446.26 346.2,446.09 346.7,445.96 347.2,445.66 347.7,445.13 348.2,444.44 348.7,443.79 349.2,443.37 349.7,443.23 350.2,443.25 350.7,443.26 351.2,443.17 351.7,442.94 352.2,442.61 352.7,442.22 353.2,441.75 353.7,441.22 354.2,440.62 354.7,440.06 355.2,439.59 355.7,439.18 356.2,438.80 356.7,438.41 357.2,437.99 357.7,437.55 358.2,437.16 358.7,436.88 359.2,436.65 359.7,436.35 360.2,435.94 360.7,435.55 361.2,435.32 361.7,435.25 362.2,435.19 362.7,435.02 363.2,434.71 363.7,434.28 364.2,433.77 364.7,433.29 365.2,432.98 365.7,432.84 366.2,432.75 366.7,432.59 367.2,432.44 367.7,432.41 368.2,432.55 368.7,432.77 369.2,433.00 369.7,433.21 370.2,433.40 370.7,433.54 371.2,433.54 371.7,433.36 372.2,433.11 372.7,432.94 373.2,433.02 373.7,433.34 374.2,433.75 374.7,434.05 375.2,434.05 375.7,433.80 376.2,433.46 376.7,433.13 377.2,432.89 377.7,432.74 378.2,432.66 378.7,432.59 379.2,432.57 379.7,432.62 380.2,432.71 380.7,432.77 381.2,432.75 381.7,432.65 382.2,432.42 382.7,432.03 383.2,431.51 383.7,431.04 384.2,430.78 384.7,430.83 385.2,431.06 385.7,431.24 386.2,431.21 386.7,431.00 387.2,430.74 387.7,430.52 388.2,430.34 388.7,430.18 389.2,430.04 389.7,429.89 390.2,429.67 390.7,429.38 391.2,429.09 391.7,428.89 392.2,428.79 392.7,428.79 393.2,428.94 393.7,429.22 394.2,429.48 394.7,429.53 395.2,429.32 395.7,428.97 396.2,428.67 396.7,428.52 397.2,428.53 397.7,428.65 398.2,428.81 398.7,428.96 399.2,429.05 399.7,429.10 400.2,429.15 400.7,429.23 401.2,429.39 401.7,429.65 402.2,430.02 402.7,430.42 403.2,430.76 403.7,430.97 404.2,431.10 404.7,431.22 405.2,431.43 405.7,431.79 406.2,432.38 406.7,433.09 407.2,433.77 407.7,434.29 408.2,434.65 408.7,434.90 409.2,435.13 409.7,435.40 410.2,435.77 410.7,436.19 411.2,436.56 411.7,436.88 412.2,437.26 412.7,437.80 413.2,438.47 413.7,439.13 414.2,439.67 414.7,440.18 415.2,440.77 415.7,441.48 416.2,442.21 416.7,442.84 417.2,443.29 417.7,443.54 418.2,443.72 418.7,443.93 419.2,444.27 419.7,444.74 420.2,445.28 420.7,445.83 421.2,446.29 421.7,446.58 422.2,446.69 422.7,446.66 423.2,446.61 423.7,446.66 424.2,446.91 424.7,447.35 425.2,447.88 425.7,448.32 426.2,448.56 426.7,448.60 427.2,448.56 427.7,448.56 428.2,448.68 428.7,448.88 429.2,449.08 429.7,449.22 430.2,449.32 430.7,449.45 431.2,449.64 431.7,449.91 432.2,450.28 432.7,450.75 433.2,451.26 433.7,451.66 434.2,451.86 434.7,451.90 435.2,451.93 435.7,452.11 436.2,452.50 436.7,452.98 437.2,453.39 437.7,453.65 438.2,453.80 438.7,453.95 439.2,454.16 439.7,454.45 440.2,454.79 440.7,455.13 441.2,455.44 441.7,455.73 442.2,456.03 442.7,456.38 443.2,456.82 443.7,457.29 444.2,457.68 444.7,457.92 445.2,458.07 445.7,458.27 446.2,458.54 446.7,458.77 447.2,458.88 447.7,458.91 448.2,458.98 448.7,459.09 449.2,459.24 449.7,459.46 450.2,459.79 450.7,460.27 451.2,460.83 451.7,461.33 452.2,461.63 452.7,461.72 453.2,461.72 453.7,461.79 454.2,462.05 454.7,462.43 455.2,462.77 455.7,462.98 456.2,463.11 456.7,463.31 457.2,463.61 457.7,463.84 458.2,463.84 458.7,463.64 459.2,463.46 459.7,463.47 460.2,463.62 460.7,463.69 461.2,463.59 461.7,463.43 462.2,463.41 462.7,463.64 463.2,464.03 463.7,464.38 464.2,464.59 464.7,464.74 465.2,464.86 465.7,464.89 466.2,464.83 466.7,464.77 467.2,464.76 467.7,464.79 468.2,464.78 468.7,464.72 469.2,464.66 469.7,464.66 470.2,464.73 470.7,464.83 471.2,464.93 471.7,465.00 472.2,465.03 472.7,465.07 473.2,465.11 473.7,465.14 474.2,465.16 474.7,465.16 475.2,465.09 475.7,464.98 476.2,464.87 476.7,464.86 477.2,464.92 477.7,464.91 478.2,464.75 478.7,464.50 479.2,464.30 479.7,464.21 480.2,464.22 480.7,464.30 481.2,464.44 481.7,464.62 482.2,464.80 482.7,464.94 483.2,464.96 483.7,464.82 484.2,464.46 484.7,464.01 485.2,463.66 485.7,463.58 486.2,463.78 486.7,464.10 487.2,464.35 487.7,464.39 488.2,464.32 488.7,464.28 489.2,464.36 489.7,464.50 490.2,464.64 490.7,464.66 491.2,464.52 491.7,464.23 492.2,463.91 492.7,463.67 493.2,463.52 493.7,463.42 494.2,463.37 494.7,463.36 495.2,463.32 495.7,463.13 496.2,462.74 496.7,462.24 497.2,461.87 497.7,461.72 498.2,461.75 498.7,461.81 499.2,461.84 499.7,461.87 500.2,461.92 500.7,461.91"/><path d="M54.2,469.80H60.9M57.0,449.65H60.9M54.2,429.50H60.9M57.0,409.35H60.9M54.2,389.20H60.9M57.0,369.05H60.9M54.2,348.90H60.9M57.0,328.75H60.9M54.2,308.60H60.9M57.0,288.45H60.9M54.2,268.30H60.9M57.0,248.15H60.9M54.2,228.00H60.9M57.0,207.85H60.9M54.2,187.70H60.9M57.0,167.55H60.9M54.2,147.40H60.9M57.0,127.25H60.9M54.2,107.10H60.9M57.0,86.95H60.9M54.2,66.80H60.9M57.0,46.65H60.9M54.2,26.50H60.9M57.0,6.35H60.9M60.90,469.8V476.4M104.89,469.8V472.8M148.88,469.8V476.4M192.87,469.8V472.8M236.86,469.8V476.4M280.85,469.8V472.8M324.83,469.8V476.4M368.82,469.8V472.8M412.81,469.8V476.4M456.80,469.8V472.8M500.79,469.8V476.4" stroke="#3a3a3a" stroke-width="1.6" fill="none"/><path d="M60.9,5.75V470.7" stroke="#4a4a4a" stroke-width="2.3" fill="none"/><path d="M59.9,469.8H501.59" stroke="#333" stroke-width="1.8" fill="none"/><text x="42.52" y="497.6" font-size="22" transform="translate(0,497.6) scale(1,1.07) translate(0,-497.6)" font-family="Liberation Sans, Arial, sans-serif" fill="#111" stroke="#111" stroke-width="0.3">600</text><text x="124.38" y="497.6" font-size="22" transform="translate(0,497.6) scale(1,1.07) translate(0,-497.6)" font-family="Liberation Sans, Arial, sans-serif" fill="#111" stroke="#111" stroke-width="0.3"><tspan dx="0.6">1</tspan><tspan dx="-0.6">2</tspan>00</text><text x="212.36" y="497.6" font-size="22" transform="translate(0,497.6) scale(1,1.07) translate(0,-497.6)" font-family="Liberation Sans, Arial, sans-serif" fill="#111" stroke="#111" stroke-width="0.3"><tspan dx="0.6">1</tspan><tspan dx="-0.6">8</tspan>00</text><text x="300.33" y="497.6" font-size="22" transform="translate(0,497.6) scale(1,1.07) translate(0,-497.6)" font-family="Liberation Sans, Arial, sans-serif" fill="#111" stroke="#111" stroke-width="0.3">2400</text><text x="388.31" y="497.6" font-size="22" transform="translate(0,497.6) scale(1,1.07) translate(0,-497.6)" font-family="Liberation Sans, Arial, sans-serif" fill="#111" stroke="#111" stroke-width="0.3">3000</text><text x="476.29" y="497.6" font-size="22" transform="translate(0,497.6) scale(1,1.07) translate(0,-497.6)" font-family="Liberation Sans, Arial, sans-serif" fill="#111" stroke="#111" stroke-width="0.3">3600</text><text font-size="22" font-family="Liberation Sans, Arial, sans-serif" fill="#111" stroke="#111" stroke-width="0.3"><tspan x="190.4" y="541.5">Raman shift </tspan><tspan x="312.9" y="541.6" font-size="14.2" fill="#333" stroke="none">(</tspan><tspan x="318.1" y="541.5">cm</tspan><tspan x="346.6" y="538.2" font-size="20">-</tspan><tspan x="353.2" y="535.9" font-size="16" stroke-width="0.7">1</tspan><tspan x="360.7" y="541.6" font-size="14.2" fill="#333" stroke="none">)</tspan></text><text transform="translate(24.4,314.5) rotate(-90)" font-size="22" font-family="Liberation Sans, Arial, sans-serif" fill="#111" stroke="#111" stroke-width="0.3">Intensity (a.u.)</text><text font-size="22" font-family="Liberation Sans, Arial, sans-serif" fill="#111" stroke="#111" stroke-width="0.3"><tspan x="161.35" y="24.5" font-size="22">D</tspan></text><text font-size="22" font-family="Liberation Sans, Arial, sans-serif" fill="#111" stroke="#111" stroke-width="0.3"><tspan x="187.3" y="24.5" font-size="22">G</tspan></text><text font-size="22" font-family="Liberation Sans, Arial, sans-serif" fill="#111" stroke="#111" stroke-width="0.3"><tspan x="208.8" y="24.5" font-size="22">D</tspan><tspan x="224.0" y="22.4" font-size="17">`</tspan></text><text font-size="22" font-family="Liberation Sans, Arial, sans-serif" fill="#111" stroke="#111" stroke-width="0.3"><tspan x="325.8" y="24.5" font-size="22">D</tspan><tspan x="340.9" y="22.8" font-size="18">*</tspan></text><text font-size="22" font-family="Liberation Sans, Arial, sans-serif" fill="#111" stroke="#111" stroke-width="0.3"><tspan x="360.5" y="24.5" font-size="22">2</tspan><tspan x="371.2" y="24.5" font-size="22">D</tspan></text><text font-size="22" font-family="Liberation Sans, Arial, sans-serif" fill="#111" stroke="#111" stroke-width="0.3"><tspan x="390.7" y="24.5" font-size="22">D</tspan><tspan x="406.0" y="24.5" font-size="20">+</tspan><tspan x="417.9" y="24.5" font-size="22">D</tspan><tspan x="433.0" y="22.4" font-size="17">`</tspan></text><text font-size="22" font-family="Liberation Sans, Arial, sans-serif" fill="#111" stroke="#111" stroke-width="0.3"><tspan x="445.0" y="24.5" font-size="22">2</tspan><tspan x="456.3" y="24.5" font-size="22">D</tspan><tspan x="471.3" y="22.4" font-size="17">`</tspan></text><text x="251.1" y="299.8" font-size="22" font-family="Liberation Sans, Arial, sans-serif" fill="#111" stroke="#111" stroke-width="0.3">GROS-B</text><text x="251.1" y="390.4" font-size="22" font-family="Liberation Sans, Arial, sans-serif" fill="#111" stroke="#111" stroke-width="0.3">GROF-B</text><text x="251.1" y="438.3" font-size="22" font-family="Liberation Sans, Arial, sans-serif" fill="#111" stroke="#111" stroke-width="0.3">GROE-B</text><path d="M124.54,494.52H130.32V499.20H124.54Z M132.61,494.52H137.30V499.20H132.61Z" fill="#fff"/><path d="M212.52,494.52H218.30V499.20H212.52Z M220.59,494.52H225.28V499.20H220.59Z" fill="#fff"/><path d="M352.88,533.66H357.03V537.50H352.88Z M358.81,533.66H362.16V537.50H358.81Z" fill="#fff"/></svg>
</body></html>
